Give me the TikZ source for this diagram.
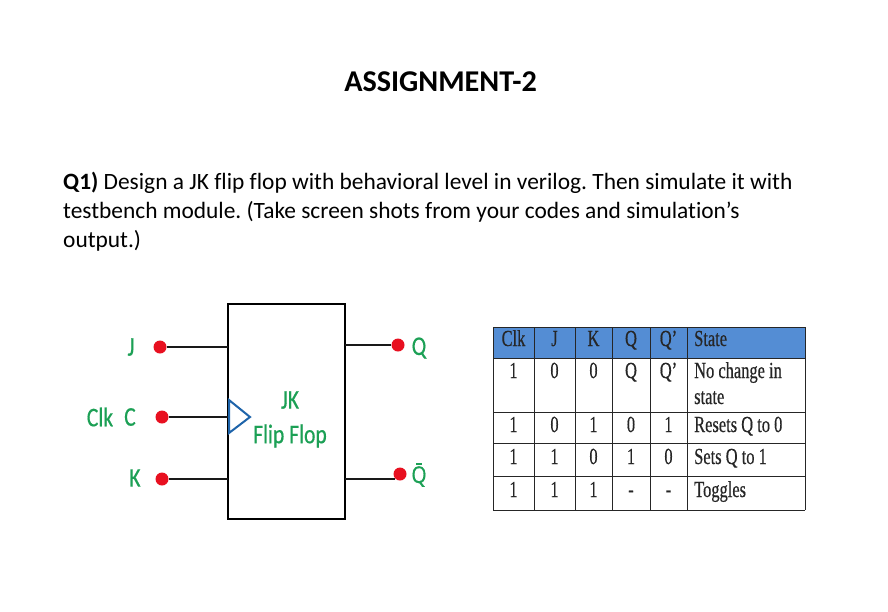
\documentclass[tikz,border=0pt]{standalone}
\usepackage{fontspec}
\setmainfont{Carlito}[Ligatures=NoCommon]
\newfontfamily\tablefont[FakeStretch=0.715,FakeBold=0.4]{Liberation Serif}
\newfontfamily\labelfont[FakeStretch=0.8,FakeBold=0.5]{Carlito}
\newfontfamily\barfont[FakeStretch=0.85,FakeBold=0.5]{Noto Sans}
\usetikzlibrary{positioning}
\definecolor{pingreen}{RGB}{28,160,85}
\definecolor{pinred}{RGB}{232,16,32}
\definecolor{clkblue}{RGB}{30,100,170}
\definecolor{headblue}{RGB}{84,141,212}
\tikzset{
	pin/.style={circle,fill=pinred,inner sep=0pt,minimum width=10pt,minimum height=13pt},
	wire/.style={line width=2.2pt,black!90},
	pinlabel/.style={text=pingreen,font=\labelfont\fontsize{27}{30}\selectfont,inner sep=0pt},
	cell/.style={font=\tablefont\fontsize{23}{26}\selectfont,text=black!85,inner sep=0pt,anchor=base},
	statecell/.style={cell,anchor=base west},
	gridline/.style={line width=1pt,black!85}
}
\begin{document}
\frenchspacing
\begin{tikzpicture}[x=1pt,y=-1pt]
	\useasboundingbox (0,0) rectangle (888,611);
	\fill[white] (0,0) rectangle (888,611);

	% heading and question
	\node	[font=\bfseries\fontsize{30.2}{34}\selectfont,inner sep=0pt]	(title)	at (440.5,82)	{ASSIGNMENT-2};
	\node	[anchor=north west,align=left,inner sep=0pt,font=\fontsize{23.4}{29}\selectfont]	(question)	at (63,172)
		{\textbf{Q1)} Design a JK flip flop with behavioral level in verilog. Then simulate it with\\
		testbench module. (Take screen shots from your codes and simulation’s\\
		output.)};

	% flip flop block
	\node	[draw,line width=2pt,minimum width=117pt,minimum height=215pt,inner sep=0pt]	(ff)	at (286.5,411.5)	{};
	\node	[pinlabel]	(ffa)	at (290,400)	{JK};
	\node	[pinlabel]	(ffb)	at (290,436)	{Flip Flop};

	\coordinate	(ffJ)	at (228,347);
	\coordinate	(ffC)	at (228,417);
	\coordinate	(ffK)	at (228,479);
	\coordinate	(ffQ)	at (345,345);
	\coordinate	(ffN)	at (345,479);

	\node	[pin]	(pJ)	at (160,347)	{};
	\node	[pin]	(pC)	at (162,417)	{};
	\node	[pin]	(pK)	at (162,479)	{};
	\node	[pin]	(pQ)	at (398,345)	{};
	\node	[pin]	(pN)	at (400,474)	{};

	\node	[pinlabel]	(lJ)	at (131,347)	{J};
	\node	[pinlabel]	(lClk)	at (100,417)	{Clk};
	\node	[pinlabel]	(lC)	at (130,417)	{C};
	\node	[pinlabel]	(lK)	at (135,478)	{K};
	\node	[pinlabel]	(lQ)	at (419,348)	{Q};
	\node	[pinlabel,font=\barfont\fontsize{23}{27}\selectfont]	(lN)	at (419,475)	{Q̄};

	\draw	[wire]	(pJ.east) -- (ffJ);
	\draw	[wire]	(pC.east) -- (ffC);
	\draw	[wire]	(pK.east) -- (ffK);
	\draw	[wire]	(pQ.west) -- (ffQ);
	\draw	[wire]	(pN.south west |- ffN) -- (ffN);

	% clock mark
	\draw	[clkblue,line width=2pt]	(229,400) -- (250,417) -- (229,433) -- cycle;

	% table
	\fill	[headblue]	(493,327) rectangle (805,358);
	\foreach \gx in {493,534,575,612,650,687,805}
		\draw	[gridline]	(\gx,327) -- (\gx,510);
	\foreach \gy in {327,358,412,443,476,510}
		\draw	[gridline]	(493,\gy) -- (805,\gy);

	\foreach \cx/\cname/\ca/\cb/\cc/\cd/\ce in {
		513.5/clk/Clk/1/1/1/1,
		554.5/j/J/0/0/1/1,
		593.5/k/K/0/1/0/1,
		631/q/Q/Q/0/1/-,
		668.5/qn/Q’/Q’/1/0/-}{
		\node	[cell]	(\cname h)	at (\cx,346)	{\ca};
		\node	[cell]	(\cname a)	at (\cx,378)	{\cb};
		\node	[cell]	(\cname b)	at (\cx,432)	{\cc};
		\node	[cell]	(\cname c)	at (\cx,464)	{\cd};
		\node	[cell]	(\cname d)	at (\cx,497)	{\ce};
	}
	\node	[statecell]	(sth)	at (694,346)	{State};
	\node	[statecell]	(sta)	at (694,378)	{No change in};
	\node	[statecell]	(stb)	at (694,404)	{state};
	\node	[statecell]	(stc)	at (694,432)	{Resets Q to 0};
	\node	[statecell]	(std)	at (694,464)	{Sets Q to 1};
	\node	[statecell]	(ste)	at (694,497)	{Toggles};
\end{tikzpicture}
\end{document}
